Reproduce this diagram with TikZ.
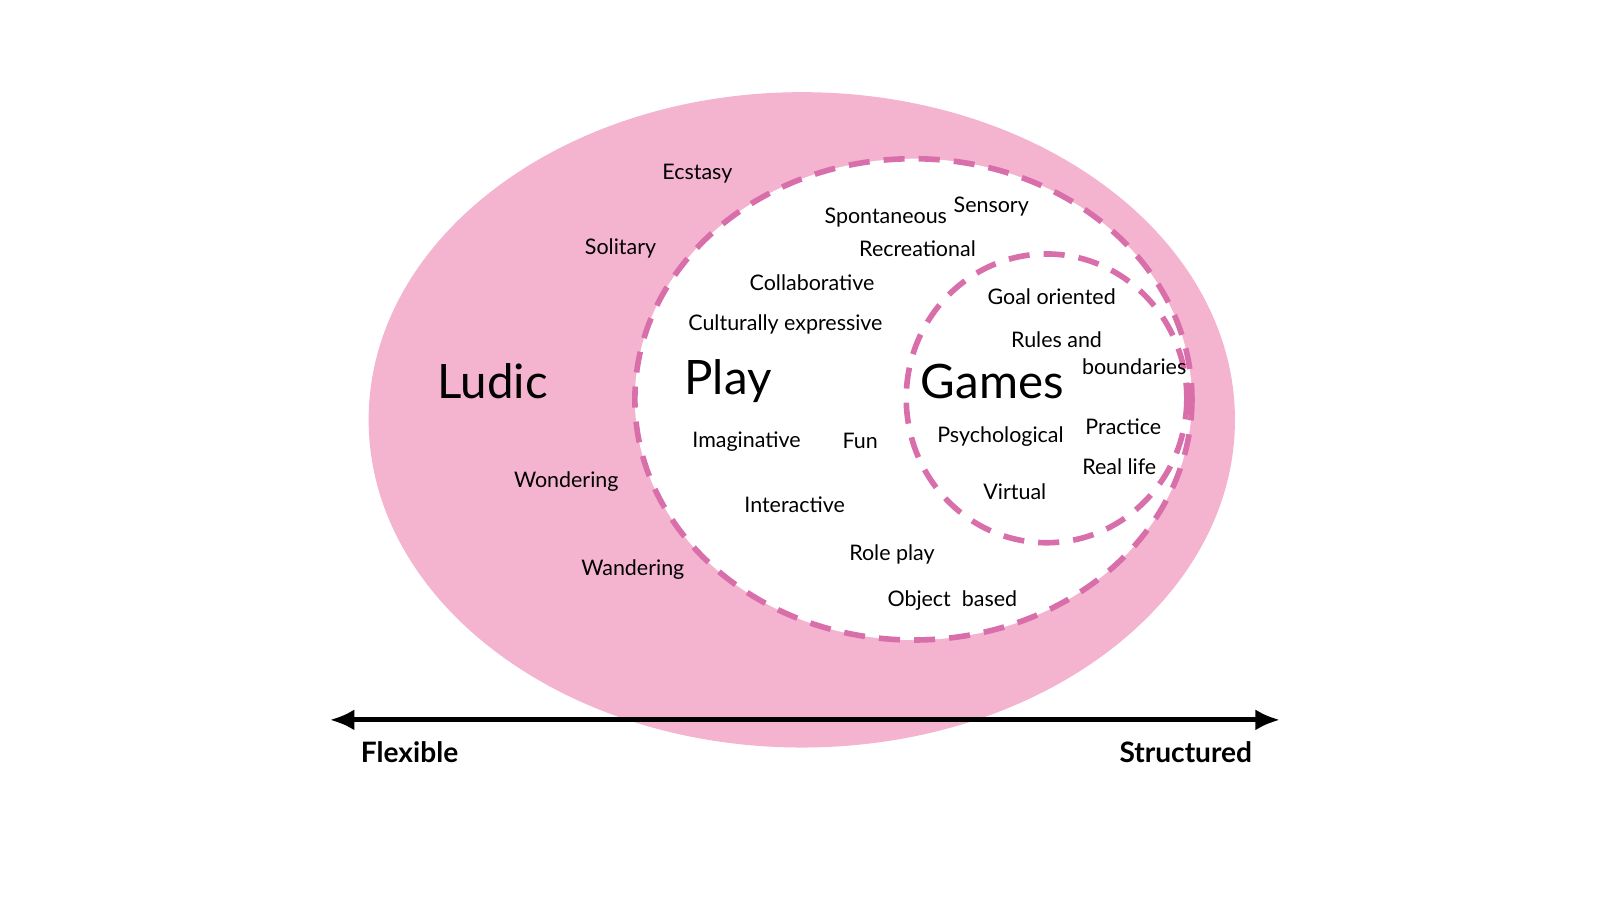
\documentclass[tikz,border=0pt]{standalone}
\usepackage{fontspec}
\setmainfont{Lato}
\usetikzlibrary{arrows.meta}
\definecolor{pinkfill}{HTML}{F4B3CE}
\definecolor{dashpink}{HTML}{D96FAA}
\begin{document}
\begin{tikzpicture}[x=0.01024cm,y=-0.01024cm,
  lbl/.style={font=\fontsize{6.1}{7.5}\selectfont, text=black},
  big/.style={font=\fontsize{13.5}{15}\selectfont, text=black},
  axislbl/.style={font=\fontsize{8}{9}\selectfont\bfseries, text=black}]
\useasboundingbox (0,0) rectangle (1562.5,879);
\fill[pinkfill] (783,410) ellipse [x radius=423, y radius=320];
\draw[dashpink, line width=1.6pt, dash pattern=on 6pt off 4pt, fill=white] (892,390) ellipse [x radius=272, y radius=235];
\draw[dashpink, line width=1.6pt, dash pattern=on 6pt off 4pt] (1022,389) ellipse [x radius=137, y radius=141];
\coordinate (L) at (322,703);
\coordinate (R) at (1250,703);
\draw[line width=1.4pt, {Latex[length=7pt,width=6pt]}-{Latex[length=7pt,width=6pt]}] (L) -- (R);
\node[axislbl] (flex) at (400,735) {Flexible};
\node[axislbl] (str) at (1158,735) {Structured};
\node[big] (ludic) at (481,372) {Ludic};
\node[big] (play) at (711,372) {Play};
\node[big] (games) at (969,373) {Games};
\node[lbl] (a1) at (681,170) {Ecstasy};
\node[lbl] (a2) at (606,243) {Solitary};
\node[lbl] (a3) at (553,470) {Wondering};
\node[lbl] (a4) at (618,556) {Wandering};
\node[lbl] (b1) at (865,212) {Spontaneous};
\node[lbl] (b2) at (968,202) {Sensory};
\node[lbl] (b3) at (896,243) {Recreational};
\node[lbl] (b4) at (793,276) {Collaborative};
\node[lbl] (b5) at (767,317) {Culturally expressive};
\node[lbl] (b6) at (729,431) {Imaginative};
\node[lbl] (b7) at (840,431) {Fun};
\node[lbl] (b8) at (776,493) {Interactive};
\node[lbl] (b9) at (871,541) {Role play};
\node[lbl] (b10) at (930,586) {Object\ \ based};
\node[lbl] (c1) at (1027,290) {Goal oriented};
\node[lbl, align=left] (c2) at (1073,345) {Rules and\\\hspace*{3.3em}boundaries};
\node[lbl] (c3) at (977,426) {Psychological};
\node[lbl] (c4) at (1097,417) {Practice};
\node[lbl] (c5) at (1093,456) {Real life};
\node[lbl] (c6) at (991,480) {Virtual};
\end{tikzpicture}
\end{document}
